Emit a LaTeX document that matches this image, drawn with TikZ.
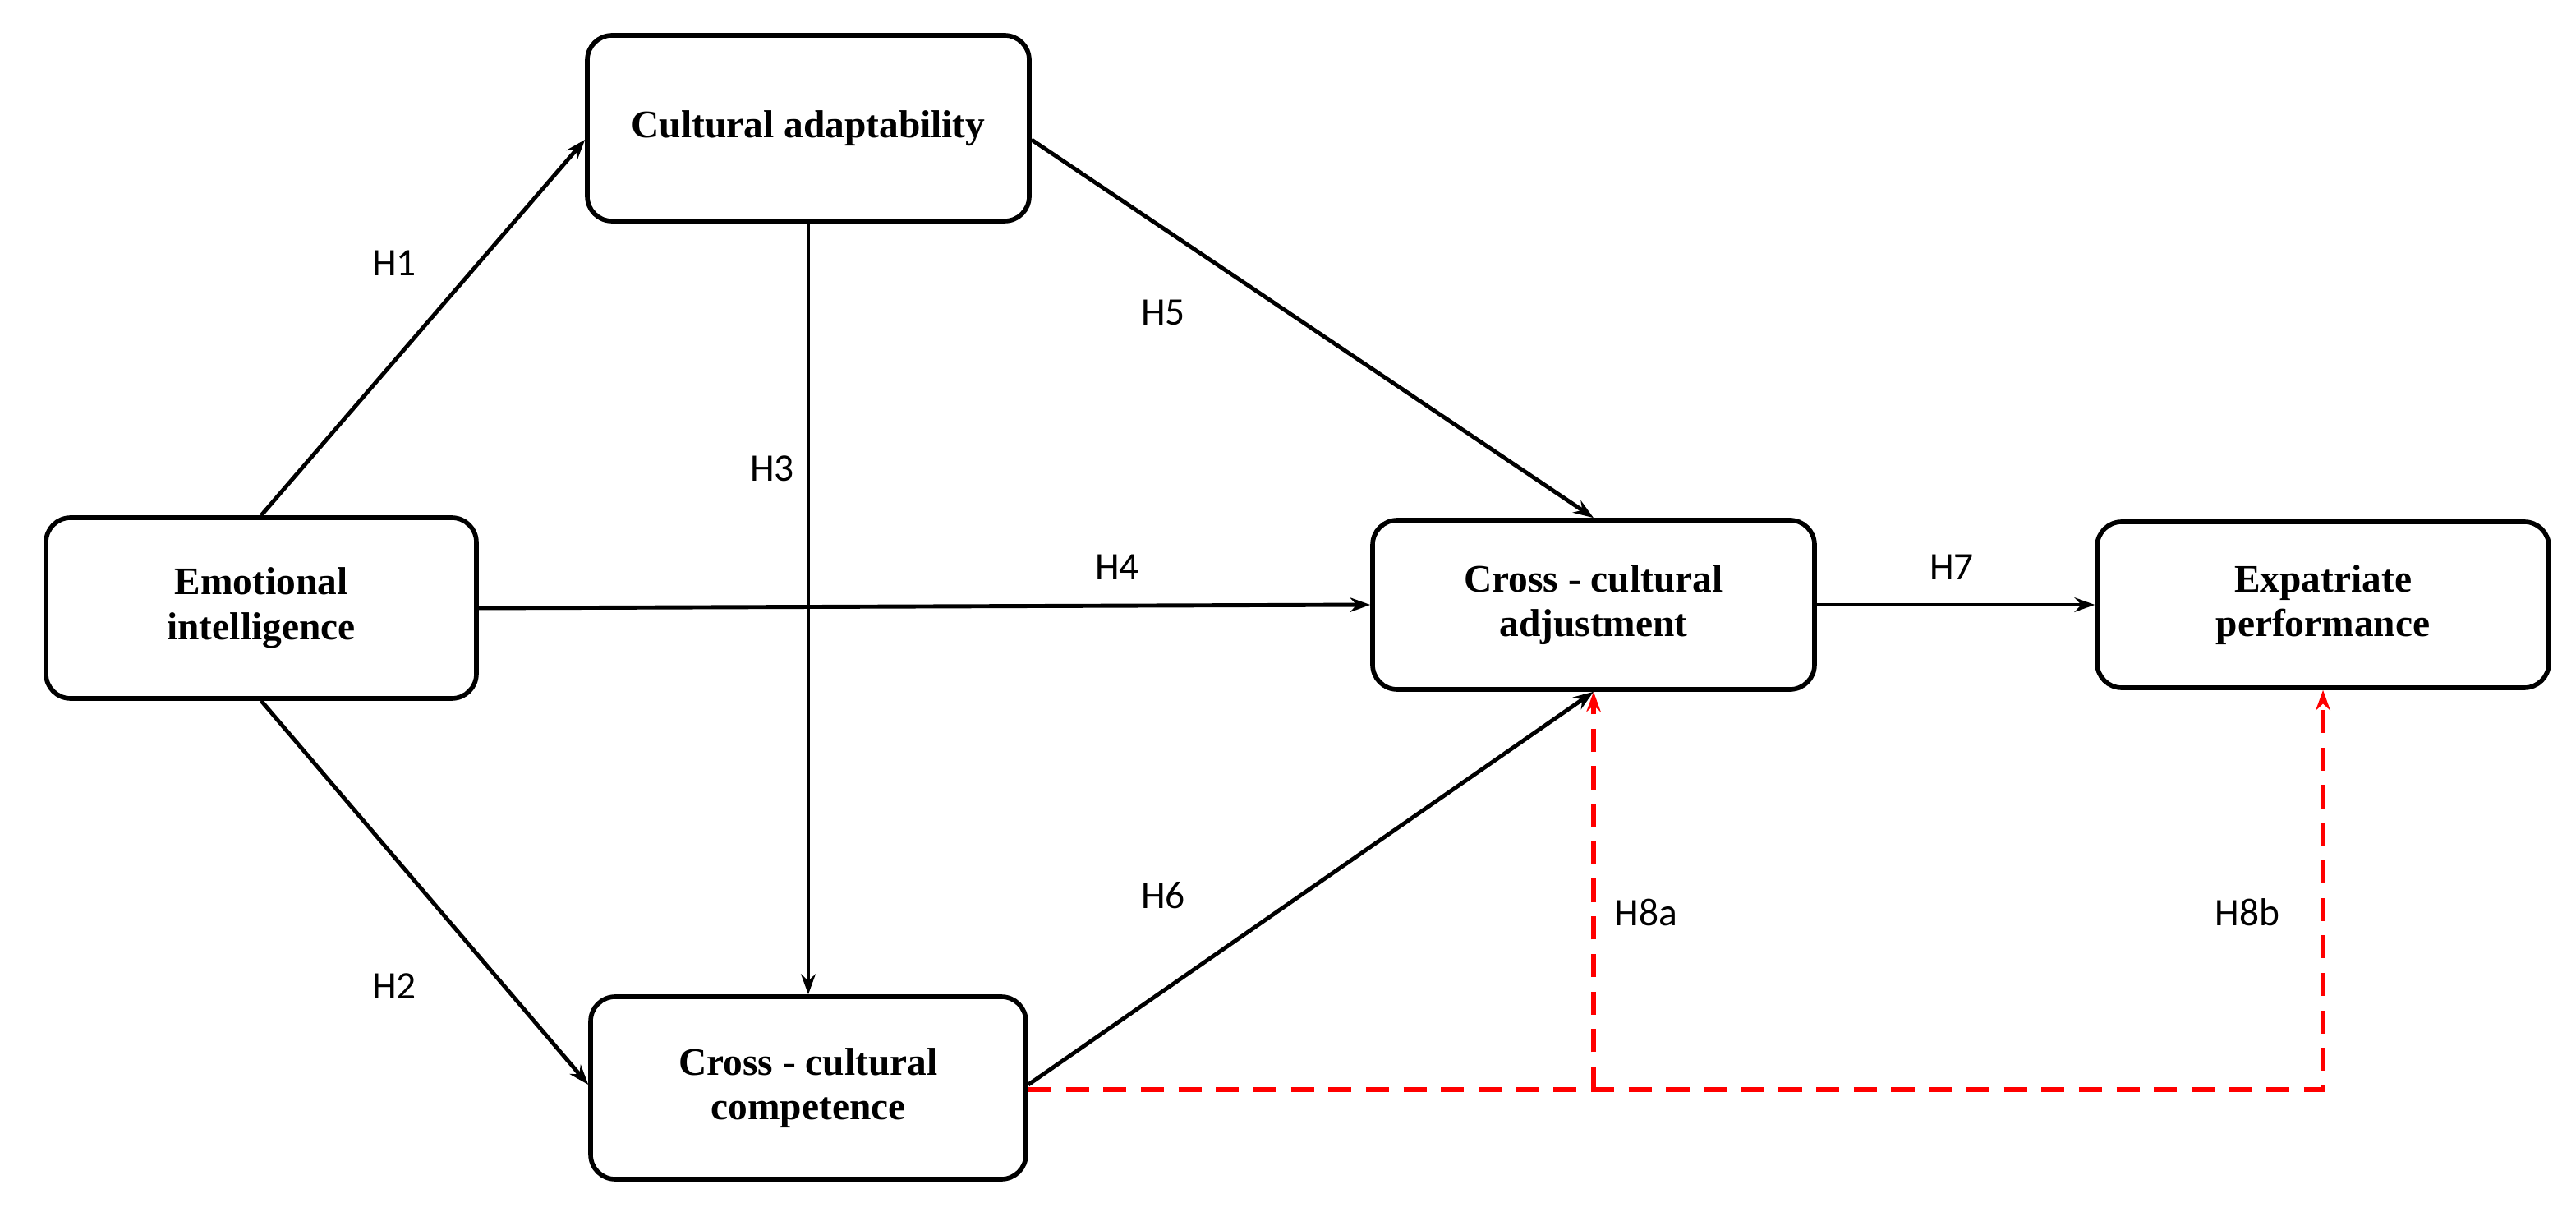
\documentclass[tikz,border=0pt]{standalone}
\usepackage{fontspec}
\setmainfont{Liberation Serif}
\newfontfamily\lab{Carlito}
\usetikzlibrary{arrows.meta}
\begin{document}
\begin{tikzpicture}[x=0.02cm,y=-0.02cm,
  box/.style={draw,line width=1.6pt,rounded corners=0.3cm,align=center,font=\fontsize{13.5}{15.5}\selectfont\bfseries,inner sep=0pt},
  arr/.style={line width=1.4pt,-{Stealth[length=7pt,width=5pt]}},
  red/.style={draw=red,line width=1.7pt,dash pattern=on 8pt off 5pt,-{Stealth[length=7pt,width=5pt]}},
  lb/.style={font=\lab\fontsize{13.5}{15}\selectfont}]
\useasboundingbox (0,0) rectangle (1568,746);
\node[box,minimum width=269*0.02cm,minimum height=113*0.02cm] (ca) at (492,78) {Cultural adaptability};
\node[box,minimum width=262*0.02cm,minimum height=110*0.02cm] (ei) at (159,370) {Emotional\\intelligence};
\node[box,minimum width=269*0.02cm,minimum height=103*0.02cm] (cca) at (970,368) {Cross - cultural\\adjustment};
\node[box,minimum width=275*0.02cm,minimum height=101*0.02cm] (ep) at (1414,368) {Expatriate\\performance};
\node[box,minimum width=265*0.02cm,minimum height=111*0.02cm] (cc) at (492,662) {Cross - cultural\\competence};
\coordinate (j1) at (970,663);
\coordinate (j2) at (1414,663);
\draw[arr] (ei.north) -- (ca.west|-0,85);
\draw[arr] (ei.south) -- (cc.west|-0,660);
\draw[arr] (ca.south) -- (cc.north);
\draw[arr] (ca.east|-0,85) -- (cca.north);
\draw[arr] (ei.east) -- (cca.west);
\draw[arr] (cc.east|-0,660) -- (cca.south);
\draw[arr] (cca.east) -- (ep.west);
\draw[red] (cc.east|-j1) -- (j2) -- (ep.south);
\draw[red] (j1) -- (cca.south);
\node[lb] (h1) at (240,160) {H1};
\node[lb] (h2) at (240,600) {H2};
\node[lb] (h3) at (470,285) {H3};
\node[lb] (h4) at (680,345) {H4};
\node[lb] (h5) at (708,190) {H5};
\node[lb] (h6) at (708,545) {H6};
\node[lb] (h7) at (1188,345) {H7};
\node[lb] (h8a) at (1002,555) {H8a};
\node[lb] (h8b) at (1368,555) {H8b};
\end{tikzpicture}
\end{document}
